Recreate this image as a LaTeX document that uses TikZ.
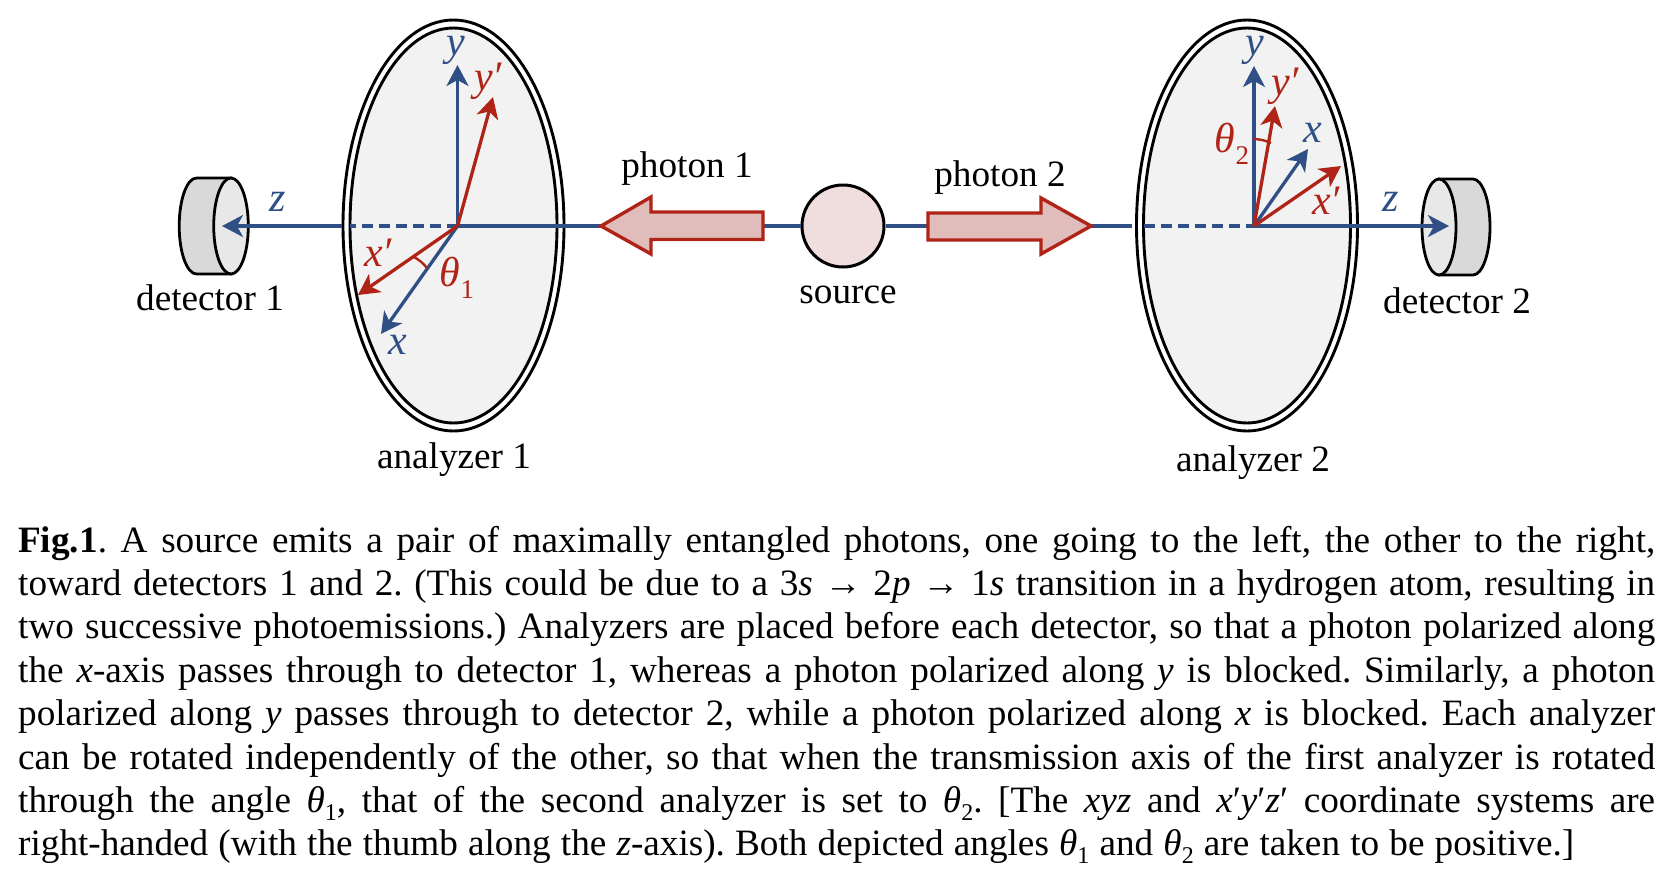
\documentclass[tikz,border=0pt]{standalone}
\usepackage{fontspec}
\setmainfont{Liberation Serif}
\usetikzlibrary{arrows.meta,shapes.geometric}
\definecolor{axblue}{HTML}{2F4F85}
\definecolor{axred}{HTML}{B02418}
\definecolor{disc}{HTML}{F2F2F2}
\definecolor{phfill}{HTML}{E0BCBA}
\definecolor{srcfill}{HTML}{F0DDDD}
\frenchspacing
\newcommand{\mi}[1]{\textit{#1}}
\newcommand{\capline}[1]{\makebox[1637pt][s]{#1}}
\newcommand{\lowidx}[1]{\raisebox{-0.28em}{\normalfont\fontsize{27}{27}\selectfont #1}}
\newcommand{\caplow}[1]{\raisebox{-0.22em}{\fontsize{24}{24}\selectfont #1}}
\tikzset{
  x=1pt,y=-1pt,
  axis/.style={line width=3.3pt,draw=axblue,-{Stealth[length=21pt,width=22pt,inset=6pt]}},
  axisr/.style={line width=3.3pt,draw=axred,-{Stealth[length=21pt,width=22pt,inset=6pt]}},
  beam/.style={line width=3.3pt,draw=axblue},
  beamd/.style={line width=3.3pt,draw=axblue,dash pattern=on 11pt off 6pt},
  outerdisc/.style={ellipse,draw=black,line width=2.9pt,fill=white,minimum width=221pt,minimum height=411pt,inner sep=0pt},
  innerdisc/.style={ellipse,draw=black,line width=2.9pt,fill=disc,minimum width=207pt,minimum height=395pt,inner sep=0pt},
  lbl/.style={font=\fontsize{37.2}{40}\selectfont,anchor=base,inner sep=0pt},
  mb/.style={font=\fontsize{42}{44}\selectfont\itshape,text=axblue,inner sep=0pt},
  mr/.style={font=\fontsize{42}{44}\selectfont\itshape,text=axred,inner sep=0pt},
  capl/.style={font=\fontsize{37.2}{40}\selectfont,anchor=base west,inner sep=0pt},
  phot/.style={draw=axred,fill=phfill,line width=3.4pt,miter limit=10},
  cyl/.style={draw=black,line width=2.8pt},
  ang/.style={draw=axred,line width=2.4pt}
}
\begin{document}
\begin{tikzpicture}
\useasboundingbox (0,0) rectangle (1670,884);
% analyzers
\node[outerdisc] (a1o) at (453.5,225.5) {};
\node[innerdisc] (a1i) at (453.5,225.5) {};
\node[outerdisc] (a2o) at (1247,225.5) {};
\node[innerdisc] (a2i) at (1247,225.5) {};
% key points
\coordinate (o1) at (457.5,226);
\coordinate (o2) at (1254,226);
\coordinate (z1) at (222,226);
\coordinate (z1a) at (342,226);
\coordinate (z1b) at (350,226);
\coordinate (z2) at (1449,226);
\coordinate (z2a) at (1132,226);
\coordinate (z2b) at (1144,226);
\coordinate (y1) at (457.5,65);
\coordinate (yp1) at (493,97);
\coordinate (xp1) at (358,295);
\coordinate (x1) at (381,334);
\coordinate (y2) at (1254,66);
\coordinate (yp2) at (1275,106);
\coordinate (x2) at (1308,149);
\coordinate (xp2) at (1341,166);
\coordinate (p1tip) at (601,226);
\coordinate (p2tip) at (1091,226);
% detector 1
\draw[cyl,fill=black!15] (196.5,178) arc[start angle=90,end angle=270,x radius=17.3,y radius=-48] -- (231,274) -- (231,178) -- cycle;
\node[ellipse,cyl,fill=black!9,minimum width=34.6pt,minimum height=96pt,inner sep=0pt] (d1) at (231,226) {};
% detector 2
\draw[cyl,fill=black!15] (1473,179) arc[start angle=90,end angle=-90,x radius=17,y radius=-48] -- (1439,275) -- (1439,179) -- cycle;
\node[ellipse,cyl,fill=black!9,minimum width=34pt,minimum height=96pt,inner sep=0pt] (d2) at (1439,227) {};
% source and beam
\node[circle,draw=black,line width=3pt,fill=srcfill,minimum size=82pt,inner sep=0pt] (src) at (843,226) {};
\draw[beam] (o1) -- (p1tip);
\draw[beam] (763,226) -- (src);
\draw[beam] (src) -- (928,226);
\draw[beam] (p2tip) -- (z2a);
\draw[beamd] (o1) -- (z1b);
\draw[beamd] (z2b) -- (o2);
\draw[axis] (z1a) -- (z1);
\draw[axis] (o2) -- (z2);
% photon arrows
\draw[phot] (p1tip) -- (651,197) -- (651,212) -- (763,212) -- (763,239.5) -- (651,239.5) -- (651,254) -- cycle;
\draw[phot] (p2tip) -- (1041,198) -- (1041,213) -- (928,213) -- (928,240) -- (1041,240) -- (1041,254) -- cycle;
% axes 1
\draw[axis] (o1) -- (y1);
\draw[axis] (o1) -- (x1);
\draw[axisr] (o1) -- (yp1);
\draw[axisr] (o1) -- (xp1);
\draw[ang] (414,257) to[bend left=10] (427,268);
% axes 2
\draw[axis] (o2) -- (y2);
\draw[axis] (o2) -- (x2);
\draw[axisr] (o2) -- (yp2);
\draw[axisr] (o2) -- (xp2);
\draw[ang] (1254,139) to[bend left=10] (1271,143);
% axis labels
\node[mb] (ly1) at (456,50) {y};
\node[mr] (lyp1) at (488,81) {y′};
\node[mr] (lxp1) at (378,253) {x′};
\node[mb] (lx1) at (398,345) {x};
\node[mb] (lz1) at (278,202) {z};
\node[mr] (lt1) at (457,278) {θ\lowidx{1}};
\node[mb] (ly2) at (1255,50) {y};
\node[mr] (lyp2) at (1285,86) {y′};
\node[mb] (lx2) at (1313,133) {x};
\node[mr] (lxp2) at (1326,201) {x′};
\node[mb] (lz2) at (1391,202) {z};
\node[mr] (lt2) at (1232,144) {θ\lowidx{2}};
% labels
\node[lbl] (tp1) at (687,177) {photon 1};
\node[lbl] (tp2) at (1000,186) {photon 2};
\node[lbl] (tsrc) at (848,303) {source};
\node[lbl] (td1) at (210,310) {detector 1};
\node[lbl] (td2) at (1457,313) {detector 2};
\node[lbl] (ta1) at (454,468) {analyzer 1};
\node[lbl] (ta2) at (1253,471) {analyzer 2};
% caption
\node[capl] (c1) at (18,552) {\capline{\textbf{Fig.1}. A source emits a pair of maximally entangled photons, one going to the left, the other to the right,}};
\node[capl] (c2) at (18,595.4) {\capline{toward detectors 1 and 2. (This could be due to a 3\mi{s} → 2\mi{p} → 1\mi{s} transition in a hydrogen atom, resulting in}};
\node[capl] (c3) at (18,638.8) {\capline{two successive photoemissions.) Analyzers are placed before each detector, so that a photon polarized along}};
\node[capl] (c4) at (18,682.2) {\capline{the \mi{x}-axis passes through to detector 1, whereas a photon polarized along \mi{y} is blocked. Similarly, a photon}};
\node[capl] (c5) at (18,725.6) {\capline{polarized along \mi{y} passes through to detector 2, while a photon polarized along \mi{x} is blocked. Each analyzer}};
\node[capl] (c6) at (18,769) {\capline{can be rotated independently of the other, so that when the transmission axis of the first analyzer is rotated}};
\node[capl] (c7) at (18,812.4) {\capline{through the angle \mi{θ}\caplow{1}, that of the second analyzer is set to \mi{θ}\caplow{2}. [The \mi{xyz} and \mi{x}′\mi{y}′\mi{z}′ coordinate systems are}};
\node[capl] (c8) at (18,855.5) {\makebox[1556pt][s]{right-handed (with the thumb along the \mi{z}-axis). Both depicted angles \mi{θ}\caplow{1} and \mi{θ}\caplow{2} are taken to be positive.]}};
\end{tikzpicture}
\end{document}
